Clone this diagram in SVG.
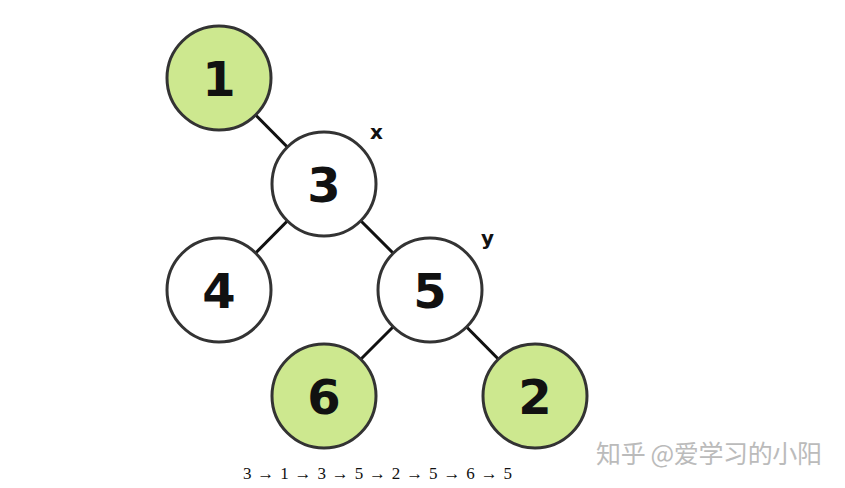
<svg xmlns="http://www.w3.org/2000/svg" width="845" height="488" viewBox="0 0 845 488">
<style>
.n{fill:#fff;stroke:#333;stroke-width:3}
.g{fill:#cde88f}
.t{font-family:"DejaVu Sans",sans-serif;font-weight:bold;font-size:48px;text-anchor:middle;fill:#111}
.e{stroke:#111;stroke-width:3}
.l{font-family:"DejaVu Sans",sans-serif;font-weight:bold;font-size:20px;fill:#111}
</style>
<rect width="845" height="488" fill="#fff"/>
<g id="edges">
<line class="e" x1="219" y1="78" x2="324" y2="184"/>
<line class="e" x1="324" y1="184" x2="219" y2="290"/>
<line class="e" x1="324" y1="184" x2="430" y2="290"/>
<line class="e" x1="430" y1="290" x2="324" y2="396"/>
<line class="e" x1="430" y1="290" x2="535" y2="396"/>
</g>
<g id="n1"><circle class="n g" cx="219" cy="78" r="52"/><text class="t" x="219" y="96">1</text></g>
<g id="n3"><circle class="n" cx="324" cy="184" r="52"/><text class="t" x="324" y="202">3</text></g>
<g id="n4"><circle class="n" cx="219" cy="290" r="52"/><text class="t" x="219" y="308">4</text></g>
<g id="n5"><circle class="n" cx="430" cy="290" r="52"/><text class="t" x="430" y="308">5</text></g>
<g id="n6"><circle class="n g" cx="324" cy="396" r="52"/><text class="t" x="324" y="414">6</text></g>
<g id="n2"><circle class="n g" cx="535" cy="396" r="52"/><text class="t" x="535" y="414">2</text></g>
<text class="l" x="370" y="139">x</text>
<text class="l" x="481" y="245">y</text>
<text x="243" y="479" font-family="'Liberation Serif',serif" font-size="17" fill="#111" textLength="269" lengthAdjust="spacing">3 → 1 → 3 → 5 → 2 → 5 → 6 → 5</text>
<text x="596" y="463" font-family="'Noto Sans CJK SC',sans-serif" font-size="25" fill="#bbb" textLength="226" lengthAdjust="spacing">知乎 @爱学习的小阳</text>
</svg>
